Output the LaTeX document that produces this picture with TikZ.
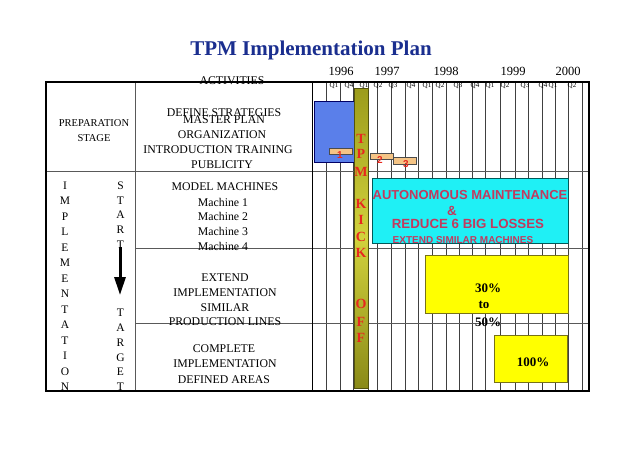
\documentclass[tikz,border=0pt]{standalone}
\usepackage{fontspec}
\setmainfont{Liberation Serif}
\newfontfamily\sansf{Liberation Sans}
\usetikzlibrary{arrows.meta}
\definecolor{navy}{HTML}{1A2E8F}
\definecolor{kickred}{HTML}{E8281E}
\definecolor{cyantext}{HTML}{C23A5E}
\definecolor{boxblue}{HTML}{5A7FEA}
\definecolor{boxcyan}{HTML}{1FF0F5}
\definecolor{boxyellow}{HTML}{FFFF00}
\definecolor{boxorange}{HTML}{F5C485}
\definecolor{olivetop}{HTML}{9C9C1C}
\definecolor{olivemid}{HTML}{D2D23C}
\definecolor{olivebot}{HTML}{8A8A18}
\begin{document}
\begin{tikzpicture}[x=1pt,y=-1pt,
  act/.style={font=\fontsize{11.8}{14}\selectfont, inner sep=0},
  vlet/.style={font=\fontsize{11.5}{15.5}\selectfont, align=center, inner sep=0},
  gridline/.style={draw=black!75, line width=0.8pt},
  sepline/.style={draw=black!65, line width=0.9pt},
  borderline/.style={draw=black, line width=1.6pt},
  kick/.style={text=kickred, font=\bfseries\fontsize{14}{16}\selectfont, inner sep=0},
  yearlbl/.style={font=\fontsize{12.5}{14}\selectfont, inner sep=0},
  qlbl/.style={font=\fontsize{7}{8}\selectfont, inner sep=0},
  numlbl/.style={text=kickred, font=\sansf\bfseries\fontsize{10}{12}\selectfont, inner sep=0},
  smallbox/.style={fill=boxorange, draw=black!70, line width=0.6pt},
  cyanlbl/.style={text=cyantext, font=\sansf\bfseries\fontsize{13.3}{15}\selectfont, inner sep=0},
  pct/.style={font=\bfseries\fontsize{13}{15}\selectfont, inner sep=0}
]
\useasboundingbox (0,0) rectangle (638,451);
\fill[white] (0,0) rectangle (638,451);

% title
\node[text=navy, font=\bfseries\fontsize{21}{24}\selectfont, inner sep=0] (title) at (311,50) {TPM Implementation Plan};

% grid vertical lines
\foreach \gx in {326.5,340,353.5,368,377.5,391.5,405,418.5,432,446,459,472,485,500,515,528,542,555,568,582}
  \draw[gridline] (\gx,82) -- (\gx,391);

% horizontal separators
\draw[sepline] (46,171.5) -- (589,171.5);
\draw[sepline] (135,248.3) -- (589,248.3);
\draw[sepline] (135,323.3) -- (589,323.3);
% column separators
\draw[sepline] (135,82) -- (135,391);
\draw[borderline, line width=1.2pt] (312.5,82) -- (312.5,391);

% years
\node[yearlbl] (y1996) at (341,71) {1996};
\node[yearlbl] (y1997) at (387,71) {1997};
\node[yearlbl] (y1998) at (446,71) {1998};
\node[yearlbl] (y1999) at (513,71) {1999};
\node[yearlbl] (y2000) at (568,71) {2000};

% quarters
\foreach \qx/\ql [count=\i] in {334/Q1,349/Q4,364/Q1,378/Q2,393/Q3,411/Q4,427/Q1,440/Q2,458/Q3,475/Q4,490/Q1,505/Q2,525/Q3,543/Q4,553/Q1,572/Q2}
  \node[qlbl] (q\i) at (\qx,86) {\ql};

% blue box
\draw[fill=boxblue, draw=blue!40!black, line width=0.7pt] (314,101) rectangle (354,162);

% TPM kick off bar
\path[top color=olivetop, bottom color=olivebot, middle color=olivemid] (354,88) rectangle (368,388);
\draw[draw=olivebot!60!black, line width=0.8pt] (354,88) rectangle (368,388);

% small orange boxes
\draw[smallbox] (329,148) rectangle (352,154);
\draw[smallbox] (370,153) rectangle (393,159);
\draw[smallbox] (393,157) rectangle (416,164);
\node[numlbl] (n1) at (340,155) {1};
\node[numlbl] (n2) at (380,160) {2};
\node[numlbl] (n3) at (406,164) {3};

% cyan box
\draw[fill=boxcyan, draw=teal!70!black, line width=0.7pt] (372,178) rectangle (568,243);
\node[cyanlbl, font=\sansf\bfseries\fontsize{13}{15}\selectfont] (am) at (470,195) {AUTONOMOUS MAINTENANCE};
\node[cyanlbl] (amp) at (452,211) {\&};
\node[cyanlbl] (red) at (468,224) {REDUCE 6 BIG LOSSES};
\node[cyanlbl, font=\sansf\bfseries\fontsize{10}{12}\selectfont] (ext) at (463,240) {EXTEND SIMILAR MACHINES};

% yellow boxes
\draw[fill=boxyellow, draw=olive!80!black, line width=0.7pt] (425,255) rectangle (568,313);
\draw[fill=boxyellow, draw=olive!80!black, line width=0.7pt] (494,335) rectangle (567,382);
\node[pct] (p30) at (488,288) {30\%};
\node[pct] (pto) at (484,305) {to};
\node[pct] (p50) at (488,322) {50\%};
\node[pct] (p100) at (533,362) {100\%};

% kick-off letters
\foreach \ky/\kl [count=\i] in {139/T,154/P,172/M,204/K,220/I,237/C,253/K,304/O,322/F,338/F}
  \node[kick] (k\i) at (361,\ky) {\kl};

% left columns
\node[act] (actv) at (232,80.5) {ACTIVITIES};
% outer border
\draw[borderline] (46,82) rectangle (589,391);
\node[font=\fontsize{10.5}{12}\selectfont, inner sep=0] (prep) at (94,123) {PREPARATION};
\node[font=\fontsize{10.5}{12}\selectfont, inner sep=0] (stage) at (94,138) {STAGE};

\node[vlet] (impl) at (65,286) {I\\M\\P\\L\\E\\M\\E\\N\\T\\A\\T\\I\\O\\N};
\node[vlet, font=\fontsize{11.5}{14.8}\selectfont] (start) at (120.5,215) {S\\T\\A\\R\\T};
\node[vlet, font=\fontsize{11.5}{14.8}\selectfont] (target) at (120.5,350) {T\\A\\R\\G\\E\\T};
\coordinate (arrtop) at (120,247);
\coordinate (arrbot) at (120,295);
\draw[line width=3pt, -{Triangle[length=18pt,width=11pt]}] (arrtop) -- (arrbot);

% activities
\node[act] (a1) at (224,112.7) {DEFINE STRATEGIES};
\node[act] (a2) at (224,119.5) {MASTER PLAN};
\node[act] (a3) at (222,135) {ORGANIZATION};
\node[act] (a4) at (218,149.5) {INTRODUCTION TRAINING};
\node[act] (a5) at (222,164.5) {PUBLICITY};
\node[act] (b1) at (225,186.5) {MODEL MACHINES};
\node[act] (b2) at (223,202) {Machine 1};
\node[act] (b3) at (223,216) {Machine 2};
\node[act] (b4) at (223,231) {Machine 3};
\node[act] (b5) at (223,246) {Machine 4};
\node[act] (c1) at (225,278) {EXTEND};
\node[act] (c2) at (225,293) {IMPLEMENTATION};
\node[act] (c3) at (225,307.5) {SIMILAR};
\node[act] (c4) at (225,322) {PRODUCTION LINES};
\node[act] (d1) at (224,349) {COMPLETE};
\node[act] (d2) at (225,364) {IMPLEMENTATION};
\node[act] (d3) at (224,379.5) {DEFINED AREAS};
\end{tikzpicture}
\end{document}
